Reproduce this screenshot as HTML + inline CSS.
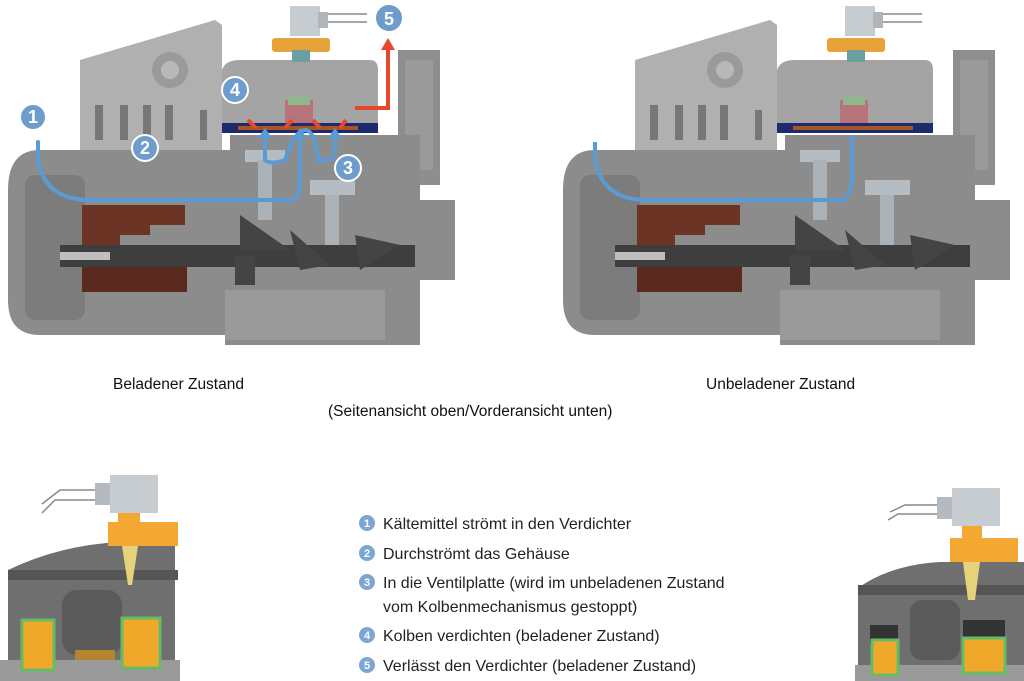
<!DOCTYPE html>
<html><head><style>
body{margin:0;background:#fff;width:1024px;height:681px;overflow:hidden;font-family:"Liberation Sans",sans-serif}
svg{position:absolute;left:0;top:0}
.t{font-size:15.5px;fill:#111}
.l{font-size:16px;fill:#222}
.n{fill:#fff;font-weight:bold;font-size:18px;text-anchor:middle}
</style></head><body>
<svg width="1024" height="681" viewBox="0 0 1024 681">
<defs>
<g id="comp">
  <!-- right side panel -->
  <rect x="398" y="50" width="42" height="135" fill="#8e8e8e"/>
  <rect x="405" y="60" width="28" height="110" fill="#9a9a9a"/>
  <!-- main body -->
  <path d="M40 150 H230 V135 H420 V200 H455 V280 H420 V345 H225 V335 H40 Q8 335 8 300 V190 Q8 150 40 150Z" fill="#8c8c8c"/>
  <rect x="25" y="175" width="60" height="145" rx="10" fill="#7c7c7c"/>
  <rect x="225" y="290" width="160" height="50" fill="#9a9a9a"/>
  <!-- terminal box -->
  <path d="M80 60 L215 20 L222 25 V150 H80Z" fill="#b0b0b0"/>
  <circle cx="170" cy="70" r="18" fill="#9a9a9a"/><circle cx="170" cy="70" r="9" fill="#b8b8b8"/>
  <g fill="#777"><rect x="95" y="105" width="8" height="35"/><rect x="120" y="105" width="8" height="35"/><rect x="143" y="105" width="8" height="35"/><rect x="165" y="105" width="8" height="35"/><rect x="200" y="110" width="7" height="30"/></g>
  <!-- cylinder head -->
  <path d="M222 70 Q225 60 240 60 H370 Q378 60 378 70 V125 H222Z" fill="#a4a4a4"/>
  <rect x="285" y="100" width="28" height="25" fill="#b9737b"/>
  <rect x="288" y="97" width="22" height="8" fill="#8fb98a"/>
  <rect x="222" y="123" width="156" height="10" fill="#1d2b6c"/>
  <rect x="238" y="126" width="120" height="4" fill="#a5542c"/>
  <!-- orange top + coil -->
  <rect x="272" y="38" width="58" height="14" rx="3" fill="#e8a23a"/>
  <rect x="292" y="50" width="18" height="12" fill="#6aa0a0"/>
  <rect x="290" y="6" width="30" height="30" fill="#c7ccd1"/>
  <rect x="318" y="12" width="10" height="16" fill="#b0b5ba"/>
  <path d="M328 14 H367 M328 22 H367" stroke="#888" stroke-width="1.5" fill="none"/>
  <!-- pistons -->
  <rect x="245" y="150" width="40" height="12" fill="#b5bcc2"/>
  <rect x="258" y="160" width="14" height="60" fill="#aab2b8"/>
  <rect x="310" y="180" width="45" height="15" fill="#b5bcc2"/>
  <rect x="325" y="195" width="14" height="65" fill="#aab2b8"/>
  <!-- motor -->
  <path d="M82 205 H185 V225 H150 V235 H120 V245 H82Z" fill="#6b3424"/>
  <rect x="82" y="265" width="105" height="27" fill="#5a2a1e"/>
  <!-- shaft/crank -->
  <rect x="60" y="245" width="355" height="22" fill="#3e3e3e"/>
  <rect x="60" y="252" width="50" height="8" fill="#bfbfbf"/>
  <path d="M240 215 L290 250 H240Z M290 230 L330 265 L300 270Z M355 235 L400 245 L360 270Z" fill="#444"/>
  <rect x="235" y="255" width="20" height="30" fill="#444"/>
</g>
</defs>
<use href="#comp"/>
<use href="#comp" x="555" y="0"/>
<!-- blue flow left -->
<g fill="none" stroke="#5b9bd5" stroke-width="4" stroke-linecap="round">
  <path d="M38 142 V160 Q45 200 90 200 H290 Q300 200 300 180 V135"/>
  <path d="M265 160 V135 M265 160 Q270 165 285 160 Q295 130 305 130 Q315 130 318 160 Q330 162 335 155 V135"/>
</g>
<g fill="#5b9bd5"><path d="M258 138 L265 128 L272 138Z M293 138 L300 128 L307 138Z M328 138 L335 128 L342 138Z"/></g>
<!-- blue flow right (unloaded) -->
<path d="M595 142 V160 Q602 200 647 200 H840 Q850 200 852 180 V135" fill="none" stroke="#5b9bd5" stroke-width="4"/>
<!-- red arrows -->
<g fill="none" stroke="#e8472b" stroke-width="4">
  <path d="M248 120 L256 128 M285 128 L292 120 M313 120 L320 128 M340 128 L346 120"/>
  <path d="M355 108 H388 V48"/>
</g>
<path d="M381 50 L388 38 L395 50Z" fill="#e8472b"/>
<!-- numbered circles -->
<g stroke="#fff" stroke-width="2">
<circle cx="33" cy="117" r="13" fill="#6e9ccc"/>
<circle cx="145" cy="148" r="13" fill="#6e9ccc"/>
<circle cx="348" cy="168" r="13" fill="#6e9ccc"/>
<circle cx="235" cy="90" r="13" fill="#6e9ccc"/>
<circle cx="389" cy="18" r="14" fill="#6e9ccc"/>
</g>
<text class="n" x="33" y="123">1</text><text class="n" x="145" y="154">2</text><text class="n" x="348" y="174">3</text><text class="n" x="235" y="96">4</text><text class="n" x="389" y="25">5</text>
<!-- captions -->
<text class="t" x="113" y="389">Beladener Zustand</text>
<text class="t" x="706" y="389">Unbeladener Zustand</text>
<text class="t" x="328" y="416">(Seitenansicht oben/Vorderansicht unten)</text>
<!-- bottom left detail -->
<g>
  <path d="M8 570 Q60 545 120 542 H175 V681 H8Z" fill="#6f6f6f"/>
  <rect x="8" y="570" width="170" height="10" fill="#555"/>
  <rect x="62" y="590" width="60" height="65" rx="15" fill="#5a5a5a"/>
  <rect x="75" y="650" width="40" height="10" fill="#b3852e"/>
  <rect x="0" y="660" width="180" height="21" fill="#9a9a9a"/>
  <rect x="22" y="620" width="32" height="50" fill="#f0a82a" stroke="#6b6" stroke-width="3"/>
  <rect x="122" y="618" width="38" height="50" fill="#f0a82a" stroke="#6b6" stroke-width="3"/>
  <rect x="108" y="522" width="70" height="24" fill="#f2a833"/>
  <rect x="118" y="505" width="22" height="20" fill="#f2a833"/>
  <path d="M122 546 L138 546 L132 585 L128 585Z" fill="#e6d27a"/>
  <rect x="110" y="475" width="48" height="38" fill="#c7ccd1"/>
  <rect x="95" y="483" width="15" height="22" fill="#b5bac0"/>
  <path d="M95 490 H60 L42 504 M95 500 H55 L42 513" stroke="#888" stroke-width="1.5" fill="none"/>
</g>
<!-- bottom right detail -->
<g>
  <path d="M858 588 Q890 565 940 562 H1024 V681 H858Z" fill="#6f6f6f"/>
  <rect x="858" y="585" width="166" height="10" fill="#555"/>
  <rect x="910" y="600" width="50" height="60" rx="12" fill="#5a5a5a"/>
  <rect x="855" y="665" width="169" height="16" fill="#9a9a9a"/>
  <rect x="870" y="625" width="28" height="18" fill="#333"/>
  <rect x="872" y="640" width="26" height="35" fill="#f0a82a" stroke="#6b6" stroke-width="3"/>
  <rect x="963" y="620" width="42" height="22" fill="#333"/>
  <rect x="963" y="638" width="42" height="35" fill="#f0a82a" stroke="#6b6" stroke-width="3"/>
  <rect x="950" y="538" width="68" height="24" fill="#f2a833"/>
  <rect x="962" y="522" width="20" height="18" fill="#f2a833"/>
  <path d="M963 562 L980 562 L975 600 L968 600Z" fill="#e6d27a"/>
  <rect x="952" y="488" width="48" height="38" fill="#c7ccd1"/>
  <rect x="937" y="497" width="15" height="22" fill="#b5bac0"/>
  <path d="M937 505 H905 L890 512 M937 514 H898 L888 520" stroke="#888" stroke-width="1.5" fill="none"/>
</g>
<!-- legend -->
<g fill="#7ea6d3">
<circle cx="367" cy="523" r="8"/><circle cx="367" cy="553" r="8"/><circle cx="367" cy="582" r="8"/><circle cx="367" cy="635" r="8"/><circle cx="367" cy="665" r="8"/>
</g>
<g fill="#fff" font-size="11" font-weight="bold" text-anchor="middle">
<text x="367" y="527">1</text><text x="367" y="557">2</text><text x="367" y="586">3</text><text x="367" y="639">4</text><text x="367" y="669">5</text>
</g>
<text class="l" x="383" y="529">Kältemittel strömt in den Verdichter</text>
<text class="l" x="383" y="559">Durchströmt das Gehäuse</text>
<text class="l" x="383" y="588">In die Ventilplatte (wird im unbeladenen Zustand</text>
<text class="l" x="383" y="612">vom Kolbenmechanismus gestoppt)</text>
<text class="l" x="383" y="641">Kolben verdichten (beladener Zustand)</text>
<text class="l" x="383" y="671">Verlässt den Verdichter (beladener Zustand)</text>
</svg>
</body></html>
